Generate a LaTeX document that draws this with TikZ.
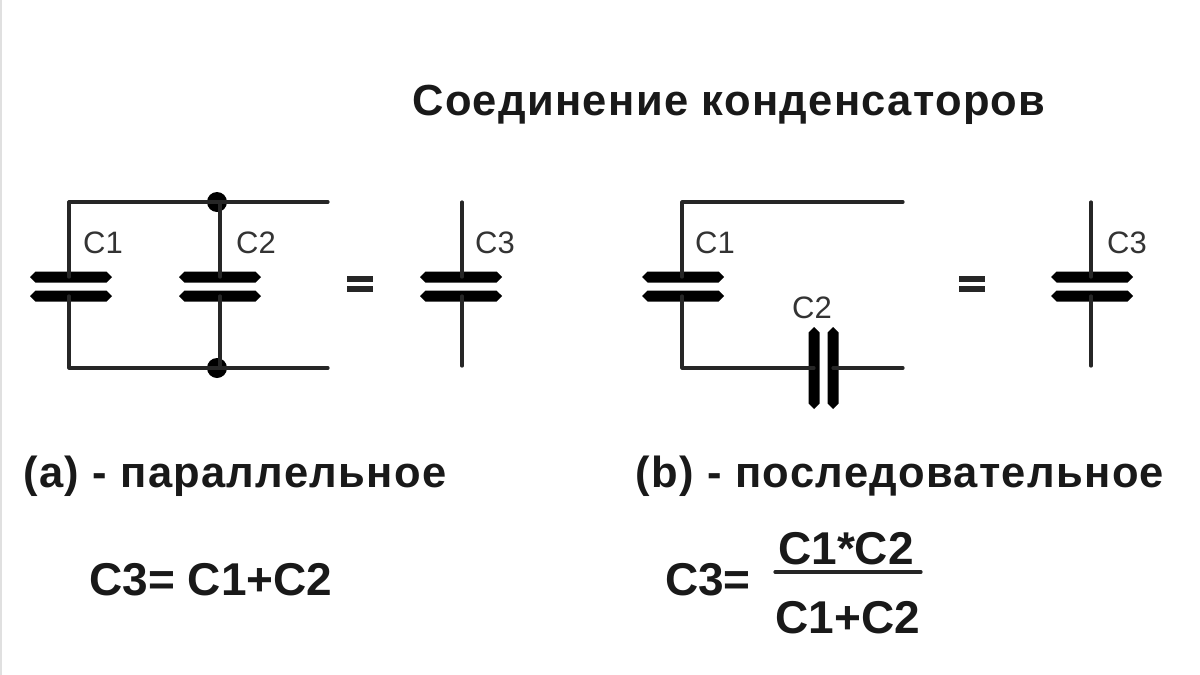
\documentclass[tikz,border=0pt]{standalone}
\usepackage{fontspec}
\setmainfont{Liberation Sans}
\newfontfamily\spacedfont[LetterSpace=3]{Liberation Sans}
\usetikzlibrary{shapes.symbols}
\tikzset{
    wire/.style={line width=3.2pt,black!85,line cap=round,line join=round},
    plate/.style={signal,signal to=east and west,signal pointer angle=90,fill=black,inner sep=0pt,
        minimum width=82pt,minimum height=11pt},
    dot/.style={circle,fill=black,inner sep=0pt,minimum size=20pt},
    eqbar/.style={rectangle,fill=black!85,inner sep=0pt,minimum width=26pt,minimum height=6pt},
    small/.style={font=\fontsize{31}{31}\selectfont,black!80},
    label/.style={font=\spacedfont\bfseries\fontsize{43.5}{43.5}\selectfont,black!90},
    formula/.style={font=\bfseries\fontsize{46}{46}\selectfont,black!90}
}
\begin{document}
\begin{tikzpicture}[x=1pt,y=-1pt]
    \useasboundingbox (0,0) rectangle (1200,675);
    \fill [black!12] (0,0) rectangle (2,675);

    \node [label] (title) at (729,105) {Соединение конденсаторов};

    % (a)
    \coordinate (atl) at (69,202);
    \coordinate (abl) at (69,368);
    \coordinate (atr) at (328,202);
    \coordinate (abr) at (328,368);
    \node [dot] (dtop) at (217,202) {};
    \node [dot] (dbot) at (217,368) {};
    \node [plate] (c1a) at (71,277) {};
    \node [plate] (c1b) at (71,296) {};
    \node [plate] (c2a) at (220,277) {};
    \node [plate] (c2b) at (220,296) {};
    \node [plate] (c3a) at (461,277) {};
    \node [plate] (c3b) at (461,296) {};
    \coordinate (c3t) at (462,202);
    \coordinate (c3d) at (462,366);
    \draw [wire] (atl |- c1a) -- (atl) -- (atr);
    \draw [wire] (abl |- c1b) -- (abl) -- (abr);
    \draw [wire] (c2a.center) -- (c2a.center |- dtop);
    \draw [wire] (c2b.center) -- (c2b.center |- dbot);
    \draw [wire] (c3t |- c3a) -- (c3t);
    \draw [wire] (c3d |- c3b) -- (c3d);
    \node [small] (lc1) at (103,243) {C1};
    \node [small] (lc2) at (256,243) {C2};
    \node [small] (lc3) at (495,243) {C3};
    \node [eqbar] (eqa1) at (360,279) {};
    \node [eqbar] (eqa2) at (360,289) {};

    % (b)
    \coordinate (btl) at (682,202);
    \coordinate (bbl) at (682,368);
    \coordinate (btr) at (903,202);
    \coordinate (bbr) at (903,368);
    \node [plate] (d1a) at (683,277) {};
    \node [plate] (d1b) at (683,296) {};
    \node [plate,rotate=90] (d2a) at (814,368) {};
    \node [plate,rotate=90] (d2b) at (833,368) {};
    \node [plate] (d3a) at (1092,277) {};
    \node [plate] (d3b) at (1092,296) {};
    \coordinate (d3t) at (1091,202);
    \coordinate (d3d) at (1091,366);
    \draw [wire] (btl |- d1a) -- (btl) -- (btr);
    \draw [wire] (bbl |- d1b) -- (bbl) -- (d2a.center);
    \draw [wire] (d2b.center) -- (bbr);
    \draw [wire] (d3t |- d3a) -- (d3t);
    \draw [wire] (d3d |- d3b) -- (d3d);
    \node [small] (ld1) at (715,243) {C1};
    \node [small] (ld2) at (812,308) {C2};
    \node [small] (ld3) at (1127,243) {C3};
    \node [eqbar] (eqb1) at (972,279) {};
    \node [eqbar] (eqb2) at (972,289) {};

    % captions
    \node [label] (capa) at (235,476) {(a) - параллельное};
    \node [label] (capb) at (900,476) {(b) - последовательное};

    % formulas
    \node [formula] (fa) at (211,580) {C3= C1+C2};
    \node [formula] (fb) at (708,580) {C3=};
    \node [formula] (num) at (846,549) {C1*C2};
    \node [formula] (den) at (848,618) {C1+C2};
    \coordinate (fl) at (775,572);
    \coordinate (fr) at (921,572);
    \draw [wire] (fl) -- (fr);
\end{tikzpicture}
\end{document}
